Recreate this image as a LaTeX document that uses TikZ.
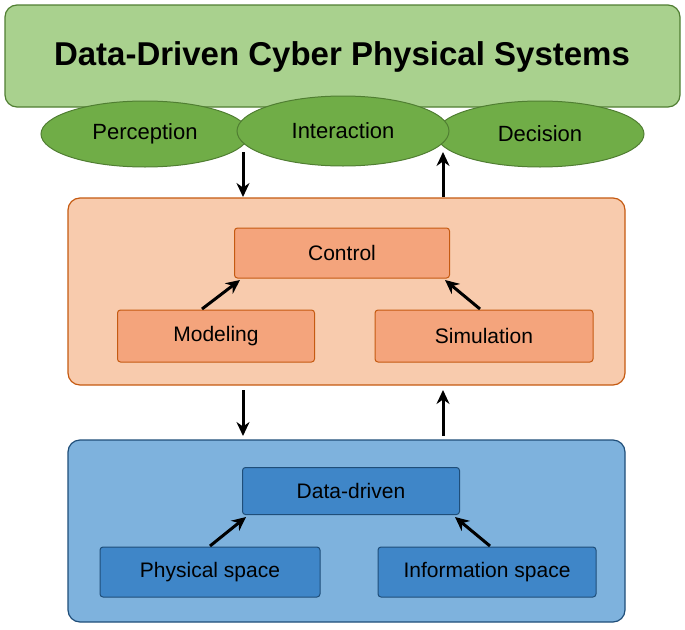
\documentclass[tikz,border=0pt]{standalone}
\usepackage{fontspec}
\setmainfont{Liberation Sans}
\usetikzlibrary{shapes.geometric,arrows.meta}
\definecolor{lgreen}{HTML}{A9D18E}
\definecolor{dgreen}{HTML}{507E32}
\definecolor{mgreen}{HTML}{70AD47}
\definecolor{lorange}{HTML}{F8CBAD}
\definecolor{morange}{HTML}{F4A47C}
\definecolor{dorange}{HTML}{C55A11}
\definecolor{lblue}{HTML}{7EB2DD}
\definecolor{mblue}{HTML}{3F86C8}
\definecolor{dblue}{HTML}{1F4E79}
\tikzset{
  big/.style={draw=#1, line width=1.2pt, rounded corners=12pt},
  ell/.style={ellipse, draw=dgreen, fill=mgreen, line width=1pt, minimum width=208pt, minimum height=66pt, font=\fontsize{22}{25}\selectfont},
  obox/.style={draw=dorange, fill=morange, line width=1pt, rounded corners=3pt, font=\fontsize{21}{24}\selectfont},
  bbox/.style={draw=dblue, fill=mblue, line width=1pt, rounded corners=3pt, font=\fontsize{21}{24}\selectfont},
  arr/.style={-{Stealth[length=14pt,width=13pt]}, line width=3pt}
}
\begin{document}
\begin{tikzpicture}[x=1pt,y=-1pt]
\useasboundingbox (0,0) rectangle (685,629);
\draw[big=dgreen, fill=lgreen] (5,5) rectangle (680,107);
\node (title) at (342,57) {\fontsize{33}{38}\selectfont\bfseries Data-Driven Cyber Physical Systems};
\node[ell] (per) at (145,134) {Perception};
\node[ell] (dec) at (540,134) {Decision};
\node[ell, minimum width=212pt, minimum height=70pt] (int) at (343,131) {Interaction};
\draw[big=dorange, fill=lorange] (68,198) rectangle (625,385);
\node[obox, minimum width=215pt, minimum height=50pt] (ctl) at (342,253) {Control};
\node[obox, minimum width=197pt, minimum height=52pt] (mod) at (216,336) {Modeling};
\node[obox, minimum width=218pt, minimum height=52pt] (sim) at (484,336) {Simulation};
\draw[big=dblue, fill=lblue] (68,440) rectangle (625,622);
\node[bbox, minimum width=217pt, minimum height=47pt] (dd) at (351,491) {Data-driven};
\node[bbox, minimum width=220pt, minimum height=50pt] (phy) at (210,572) {Physical space};
\node[bbox, minimum width=218pt, minimum height=50pt] (inf) at (487,572) {Information space};
\coordinate (a1) at (243,152); \coordinate (a2) at (243,197);
\coordinate (b1) at (443,197); \coordinate (b2) at (443,152);
\coordinate (c1) at (243,390); \coordinate (c2) at (243,436);
\coordinate (d1) at (443,436); \coordinate (d2) at (443,390);
\draw[arr] (a1) -- (a2);
\draw[arr] (b1) -- (b2);
\draw[arr] (c1) -- (c2);
\draw[arr] (d1) -- (d2);
\draw[arr] (202,309) -- (240,280);
\draw[arr] (480,309) -- (445,280);
\draw[arr] (210,546) -- (246,517);
\draw[arr] (490,546) -- (455,517);
\end{tikzpicture}
\end{document}
